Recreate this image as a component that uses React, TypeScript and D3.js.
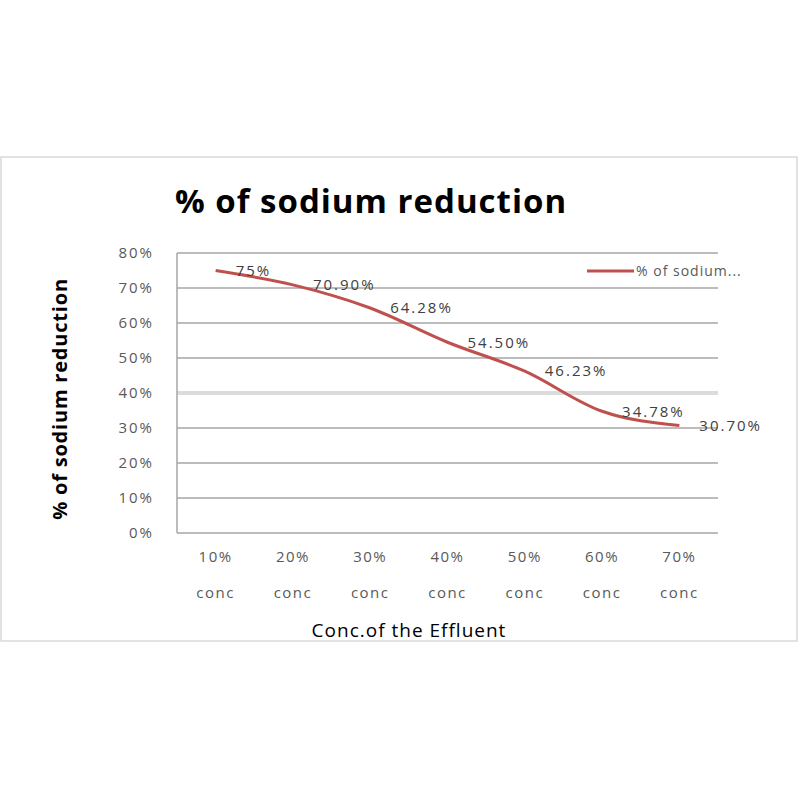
import React, { useRef, useEffect } from 'react';
import * as d3 from 'd3';

const categories = ['10%', '20%', '30%', '40%', '50%', '60%', '70%'];
const values = [0.75, 0.709, 0.6428, 0.545, 0.4623, 0.3478, 0.307];
const valueLabels = ['75%', '70.90%', '64.28%', '54.50%', '46.23%', '34.78%', '30.70%'];
const yTicks = [0, 0.1, 0.2, 0.3, 0.4, 0.5, 0.6, 0.7, 0.8];

const FONT = 'Open Sans, Liberation Sans, sans-serif';

const App = () => {
  const svgRef = useRef(null);

  useEffect(() => {
    const svg = d3.select(svgRef.current);
    svg.selectAll('*').remove();

    const left = 177, right = 718, top = 253, bottom = 533;

    const x = d3.scaleBand().domain(categories).range([left, right]);
    const y = d3.scaleLinear().domain([0, 0.8]).range([bottom, top]);

    // chart frame
    svg.append('rect')
      .attr('x', 1).attr('y', 157)
      .attr('width', 796).attr('height', 484)
      .attr('fill', '#fff')
      .attr('stroke', '#d9d9d9')
      .attr('stroke-width', 1.5);

    // title
    svg.append('text')
      .attr('x', 175).attr('y', 213)
      .attr('font-family', FONT)
      .attr('font-weight', 'bold')
      .attr('font-size', 33)
      .attr('letter-spacing', 1)
      .attr('fill', '#000')
      .text('% of sodium reduction');

    // gridlines
    svg.append('g')
      .selectAll('line')
      .data(yTicks)
      .join('line')
      .attr('x1', left).attr('x2', right)
      .attr('y1', (d) => y(d)).attr('y2', (d) => y(d))
      .attr('stroke', (d) => (Math.abs(d - 0.4) < 1e-9 ? '#dcdcdc' : '#a6a6a6'))
      .attr('stroke-width', (d) => (Math.abs(d - 0.4) < 1e-9 ? 4 : 1.5));

    svg.append('line')
      .attr('x1', left).attr('x2', left)
      .attr('y1', top).attr('y2', bottom)
      .attr('stroke', '#a6a6a6')
      .attr('stroke-width', 1.5);

    // y tick labels
    svg.append('g')
      .selectAll('text')
      .data(yTicks)
      .join('text')
      .attr('x', 154)
      .attr('y', (d) => y(d))
      .attr('dy', '0.35em')
      .attr('text-anchor', 'end')
      .attr('font-family', FONT)
      .attr('font-size', 15)
      .attr('letter-spacing', 2)
      .attr('fill', '#595959')
      .text((d) => d3.format('.0%')(d));

    // x tick labels
    const xl = svg.append('g')
      .selectAll('text')
      .data(categories)
      .join('text')
      .attr('text-anchor', 'middle')
      .attr('font-family', FONT)
      .attr('font-size', 15)
      .attr('letter-spacing', 1.5)
      .attr('fill', '#595959');
    xl.append('tspan')
      .attr('x', (d) => x(d) + x.bandwidth() / 2)
      .attr('y', 562)
      .text((d) => d);
    xl.append('tspan')
      .attr('x', (d) => x(d) + x.bandwidth() / 2)
      .attr('y', 598)
      .text('conc');

    // axis titles
    svg.append('text')
      .attr('x', 409).attr('y', 637)
      .attr('text-anchor', 'middle')
      .attr('font-family', FONT)
      .attr('font-size', 19)
      .attr('letter-spacing', 1)
      .attr('fill', '#000')
      .text('Conc.of the Effluent');

    svg.append('text')
      .attr('transform', `translate(67, ${(top + bottom) / 2 + 6}) rotate(-90)`)
      .attr('text-anchor', 'middle')
      .attr('font-family', FONT)
      .attr('font-weight', 'bold')
      .attr('font-size', 20)
      .attr('letter-spacing', 0.8)
      .attr('fill', '#000')
      .text('% of sodium reduction');

    // line
    const line = d3.line()
      .x((d, i) => x(categories[i]) + x.bandwidth() / 2)
      .y((d) => y(d))
      .curve(d3.curveMonotoneX);

    svg.append('path')
      .datum(values)
      .attr('fill', 'none')
      .attr('stroke', '#c0504d')
      .attr('stroke-width', 3)
      .attr('d', line);

    // data labels
    svg.append('g')
      .selectAll('text')
      .data(values)
      .join('text')
      .attr('x', (d, i) => x(categories[i]) + x.bandwidth() / 2 + 20)
      .attr('y', (d) => y(d))
      .attr('dy', '0.35em')
      .attr('font-family', FONT)
      .attr('font-size', 15)
      .attr('letter-spacing', 2)
      .attr('fill', '#404040')
      .text((d, i) => valueLabels[i]);

    // legend
    svg.append('line')
      .attr('x1', 587).attr('x2', 634)
      .attr('y1', 271).attr('y2', 271)
      .attr('stroke', '#c0504d')
      .attr('stroke-width', 3);
    svg.append('text')
      .attr('x', 636).attr('y', 271)
      .attr('dy', '0.35em')
      .attr('font-family', FONT)
      .attr('font-size', 14)
      .attr('letter-spacing', 1)
      .attr('fill', '#595959')
      .text('% of sodium...');
  }, []);

  return (
    <svg
      ref={svgRef}
      width={800}
      height={800}
      style={{ position: 'absolute', left: 0, top: 0, background: '#fff' }}
    ></svg>
  );
};

export default App;
